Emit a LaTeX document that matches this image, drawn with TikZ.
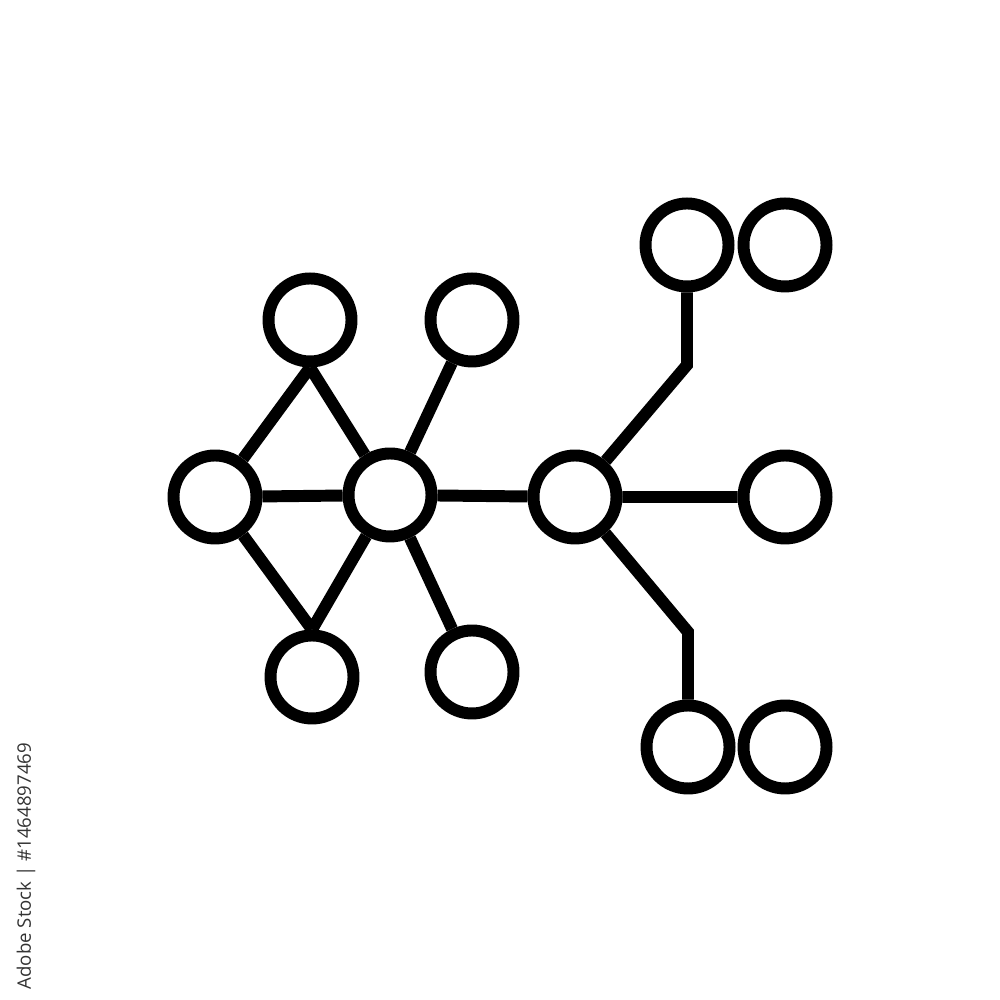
\documentclass[tikz,border=0pt]{standalone}
\usepackage{fontspec}
\setsansfont{Open Sans}

\begin{document}
\begin{tikzpicture}[
    nodo/.style={draw, circle, line width=3.4pt, minimum size=0.83cm, inner sep=0pt, fill=white},
    arco/.style={line width=3.4pt, line join=miter}
    ]
    \useasboundingbox (0,0) rectangle (10,10);

    %% nodi
    \node[nodo](L) at (2.15,5.03){};
    \node[nodo](C) at (3.90,5.05){};
    \node[nodo](H) at (5.75,5.03){};
    \node[nodo](T1) at (3.10,6.80){};
    \node[nodo](T2) at (4.72,6.80){};
    \node[nodo](B1) at (3.12,3.23){};
    \node[nodo](B2) at (4.72,3.28){};
    \node[nodo](R) at (7.85,5.03){};
    \node[nodo](TR1) at (6.87,7.55){};
    \node[nodo](TR2) at (7.85,7.55){};
    \node[nodo](BR1) at (6.88,2.53){};
    \node[nodo](BR2) at (7.85,2.53){};

    \coordinate (g1) at (6.87,6.35);
    \coordinate (g2) at (6.88,3.68);

    %% archi
    \draw[arco]
    (L)--(C)
    (C)--(H)
    (H)--(R)
    (L)--(T1.south)
    (C)--(T1.south)
    (L)--(B1.north)
    (C)--(B1.north)
    (C)--(T2)
    (C)--(B2)
    (H)--(g1)--(TR1.south)
    (H)--(g2)--(BR1.north)
    ;

    %% scritta
    \node[rotate=90, anchor=west, inner sep=0pt, text=black!80, font=\sffamily\fontsize{5.3}{6}\selectfont](ws) at (0.26,0.10){Adobe Stock | \#1464897469};
\end{tikzpicture}
\end{document}
